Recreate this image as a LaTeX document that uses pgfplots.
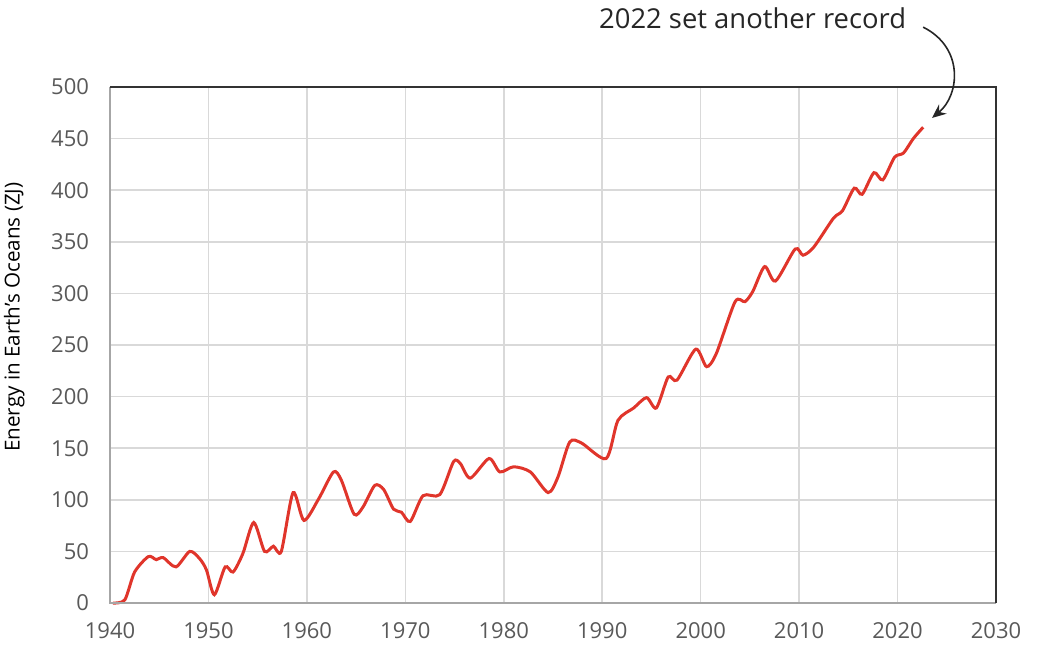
\documentclass[border=0pt]{standalone}
\usepackage{pgfplots}
\pgfplotsset{compat=1.18}
\usepackage{fontspec}
\setmainfont{Open Sans}
\usetikzlibrary{arrows.meta}
\definecolor{linered}{HTML}{E0352B}
\definecolor{tickgray}{HTML}{595959}
\definecolor{gridgray}{HTML}{D9D9D9}
\begin{document}
\begin{tikzpicture}
\path[use as bounding box] (-55pt,-33.5pt) rectangle (472pt,301.5pt);
\begin{axis}[
  scale only axis,
  width=443pt, height=258pt,
  at={(0,0)}, anchor=south west,
  xmin=1940, xmax=2030, ymin=0, ymax=500,
  xtick={1940,1950,...,2030}, ytick={0,50,...,500},
  grid=major,
  major grid style={gridgray, line width=0.8pt},
  axis line style={draw=none},
  major tick length=0pt,
  tick label style={font=\fontsize{11}{13}\selectfont, text=tickgray},
  /pgf/number format/assume math mode=true,
  /pgf/number format/1000 sep={},
  xticklabel style={yshift=-6pt},
  yticklabel style={xshift=-7pt},
  ylabel={Energy in Earth's Oceans (ZJ)},
  ylabel style={font=\fontsize{10.3}{12}\selectfont, text=black, at={(axis description cs:-0.108,0.554)}, anchor=center},
  clip=false,
]
\addplot[smooth, tension=0.45, linered, line width=1.5pt] coordinates {
(1940.3,0) (1941.5,3) (1942.5,30) (1943.9,45) (1944.7,42) (1945.4,44)
(1946.7,35) (1948.1,50) (1949.1,43) (1949.8,32) (1950.6,8) (1951.7,35)
(1952.5,30) (1953.5,48) (1954.6,78) (1955.7,50) (1956.6,55) (1957.4,50)
(1958.6,107) (1959.7,80) (1961.2,101) (1962.7,127) (1963.5,119) (1964.8,86)
(1965.7,93) (1966.9,114) (1967.8,110) (1968.8,91) (1969.6,88) (1970.5,79)
(1971.8,104) (1973.5,105) (1974.9,137) (1975.6,135) (1976.6,121) (1978.5,140)
(1979.6,127) (1981.0,132) (1982.7,127) (1984.5,107) (1985.5,122) (1986.7,156)
(1987.9,155) (1990.4,140) (1991.6,177) (1993.2,189) (1994.5,199) (1995.5,189)
(1996.7,219) (1997.6,216) (1999.5,246) (2000.6,229) (2001.6,242) (2003.5,292)
(2004.5,292) (2005.3,302) (2006.5,326) (2007.6,312) (2009.6,343) (2010.4,337)
(2011.5,345) (2013.5,373) (2014.4,380) (2015.6,402) (2016.4,396) (2017.6,417)
(2018.5,410) (2019.7,432) (2020.6,436) (2021.6,450) (2022.6,461)
};
\draw[gray!70, line width=0.8pt] (rel axis cs:0,1) -- (rel axis cs:0,0) -- (rel axis cs:1,0);
\draw[black!80, line width=0.8pt] (rel axis cs:0,1) -- (rel axis cs:1,1) -- (rel axis cs:1,0);
\node[anchor=east, font=\fontsize{13.7}{16}\selectfont, text=black!85, inner sep=0pt] at (axis cs:2020.9,566.5) {2022 set another record};
\draw[black!85, line width=0.8pt, -{Stealth[length=7pt, width=6pt]}] (axis cs:2022.6,558) .. controls (axis cs:2026.8,538) and (axis cs:2026.3,492) .. (axis cs:2023.5,470);
\end{axis}
\end{tikzpicture}
\end{document}
